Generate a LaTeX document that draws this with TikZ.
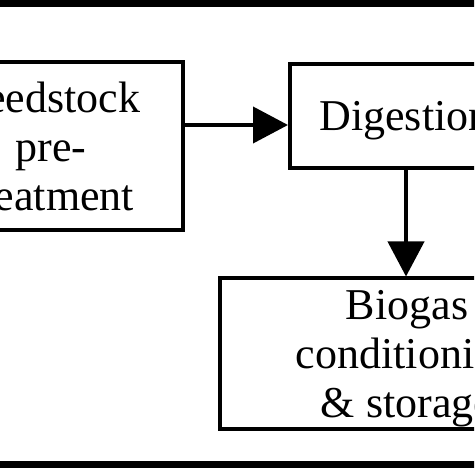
\documentclass[tikz,border=0pt]{standalone}
\usepackage{fontspec}
\setmainfont{Liberation Serif}
\usetikzlibrary{arrows.meta}
\begin{document}
\begin{tikzpicture}[x=0.5pt,y=-0.5pt,
    box/.style={draw,line width=2pt,align=center,inner sep=0pt,text depth=0pt,font=\fontsize{22}{24.5}\selectfont},
    flow/.style={line width=2pt,-{Triangle[length=17.5pt,width=18pt]}}]
            \useasboundingbox (0,0) rectangle (474,474);
            \clip (0,0) rectangle (474,474);
            \draw[line width=3.5pt] (-20,3.5) rectangle (494,464);
            \node[box,minimum width=131.5pt,minimum height=84pt] (feed) at (51,146) {Feedstock\\pre-\\treatment};
            \node[box,minimum width=115pt,minimum height=52pt] (dig) at (405,116) {Digestion};
            \node[box,minimum width=187pt,minimum height=75pt] (bio) at (407,353.5) {Biogas\\conditioning\\\& storage};
            \draw[flow] (feed.east) ++(0,-21) coordinate (a) -- (a -| dig.west);
            \draw[flow] ([xshift=-0.5pt]bio.north |- dig.south) -- ([xshift=-0.5pt]bio.north);
        \end{tikzpicture}
\end{document}
